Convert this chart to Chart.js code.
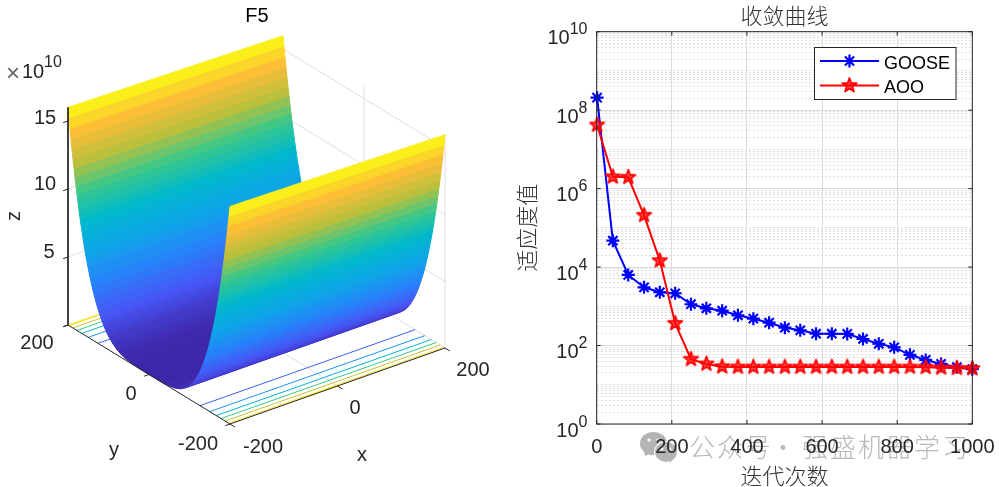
<!DOCTYPE html>
<html>
<head>
<meta charset="utf-8">
<script src="https://cdn.jsdelivr.net/npm/chart.js@4"></script>
<style>
  body { margin: 0; background: #fff; }
  canvas { position: absolute; top: 0; }
  #graficoSuperficie { left: 0; }
  #graficoConvergencia { left: 500px; }
</style>
</head>
<body>
<canvas id="graficoSuperficie" width="500" height="487"></canvas>
<canvas id="graficoConvergencia" width="499" height="487"></canvas>
<script>
// Dados da curva de convergência
const iteracoes = [1, 43, 84, 126, 168, 209, 251, 292, 334, 376, 417, 459, 501, 542, 584, 626, 667, 709, 751, 792, 834, 876, 917, 959, 1000];
const gooseValores = [2.08e8, 4.7e4, 6.3e3, 3.05e3, 2.28e3, 2.15e3, 1130, 890, 773, 590, 484, 382, 285, 244, 200, 200, 198, 147, 111, 90, 58, 43, 34, 28, 25];
const aooValores = [4.2e7, 2.0e6, 1.95e6, 2.1e5, 1.46e4, 368, 45, 34, 29, 28.4, 28.4, 28.4, 28.4, 28.4, 28.4, 28.4, 28.4, 28.4, 28.4, 28.4, 28.4, 28, 27, 26.5, 26];
const ticksXConv = [0, 200, 400, 600, 800, 1000];
const expoentesConv = [0, 2, 4, 6, 8, 10];
const decadasConv = [1, 10, 100, 1e3, 1e4, 1e5, 1e6, 1e7, 1e8, 1e9];

// Perfil da superfície F5: y (metade positiva) e z em unidades de 1e10
const perfilY = [0, 20, 40, 60, 70, 80, 90, 100, 105, 110, 115, 120, 125, 130, 135, 140, 145, 150, 152.5, 155, 157.5, 160, 162.5, 165, 167.5, 170, 172.5, 175, 177.5, 180, 182.5, 185, 187.5, 190, 192.5, 195, 197.5, 200];
const perfilZ = [0, 0.0016, 0.0256, 0.1296, 0.2401, 0.4096, 0.6561, 1, 1.2155, 1.4641, 1.749, 2.0736, 2.4414, 2.8561, 3.3215, 3.8416, 4.4205, 5.0625, 5.4085, 5.772, 6.1535, 6.5536, 6.9729, 7.412, 7.8717, 8.3521, 8.8543, 9.3789, 9.9266, 10.4976, 11.093, 11.714, 12.36, 13.032, 13.732, 14.459, 15.215, 16];
const contornosY = [126, 150, 166, 178, 188, 197];
const contornosZ = [2.5, 5, 7.5, 10, 12.5, 15];
const ticksZ = [5, 10, 15];
const zTopo = 16;

// Mapa de cores
const parula = [[62, 38, 168], [71, 85, 245], [40, 130, 250], [14, 165, 232], [0, 184, 205], [55, 200, 140], [185, 192, 60], [252, 188, 55], [249, 251, 20]];

const corTexto = '#262626';
const fonteLatina = '"Liberation Sans", Arial, sans-serif';
const fonteCJK = '"Noto Sans CJK SC", sans-serif';

Chart.defaults.animation = false;
Chart.defaults.responsive = false;
Chart.defaults.font.family = fonteLatina;
Chart.defaults.color = corTexto;

function corParula(t) {
    const p = Math.min(Math.max(t, 0), 1) * (parula.length - 1);
    const i = Math.min(Math.floor(p), parula.length - 2);
    const f = p - i;
    const c = parula[i].map((v, k) => Math.round(v + (parula[i + 1][k] - v) * f));
    return 'rgb(' + c.join(',') + ')';
}

// Projeção da caixa 3D
function proj(x, y, z) {
    const u = (x + 200) / 400;
    const v = (y + 200) / 400;
    return { x: 230 + u * 215 - v * 162, y: 424 - u * 76 - v * 99 - z * (13.6 - 0.27 * u) };
}

function linha(pontos, cor, largura) {
    return { data: pontos, showLine: true, borderColor: cor, borderWidth: largura, pointRadius: 0, fill: false, clip: false };
}

function criarDatasetsSuperficie() {
    const camadas = [];
    const cinza = '#dedede';

    // grades do fundo
    camadas.push(linha([proj(-200, 200, 0), proj(200, 200, 0), proj(200, -200, 0)], cinza, 1));
    camadas.push(linha([proj(0, -200, 0), proj(0, 200, 0), proj(0, 200, zTopo)], cinza, 1));
    camadas.push(linha([proj(-200, 0, 0), proj(200, 0, 0), proj(200, 0, zTopo)], cinza, 1));
    camadas.push(linha([proj(200, 200, 0), proj(200, 200, zTopo)], cinza, 1));
    camadas.push(linha([proj(200, -200, 0), proj(200, -200, zTopo)], cinza, 1));
    ticksZ.forEach(z => {
        camadas.push(linha([proj(-200, 200, z), proj(200, 200, z), proj(200, -200, z)], cinza, 1));
    });

    // contornos atrás da superfície
    contornosY.forEach((y, i) => {
        camadas.push(linha([proj(-200, y, 0), proj(200, y, 0)], corParula(contornosZ[i] / zTopo), 1));
    });
    camadas.push(linha([proj(-200, 199.5, 0), proj(200, 199.5, 0)], corParula(0.98), 1));

    // faixas da superfície, de trás para a frente
    const ys = perfilY.slice().reverse().concat(perfilY.slice(1).map(v => -v));
    const zs = perfilZ.slice().reverse().concat(perfilZ.slice(1));
    for (let i = 0; i < ys.length - 1; i++) {
        const pontos = [proj(-200, ys[i], zs[i]), proj(200, ys[i], zs[i]), proj(200, ys[i + 1], zs[i + 1]), proj(-200, ys[i + 1], zs[i + 1]), proj(-200, ys[i], zs[i])];
        const cor = corParula((zs[i] + zs[i + 1]) / 2 / zTopo);
        camadas.push({ data: pontos, showLine: true, borderColor: cor, backgroundColor: cor, borderWidth: 1, pointRadius: 0, fill: 'shape', clip: false });
    }

    // contornos à frente
    contornosY.forEach((y, i) => {
        camadas.push(linha([proj(-200, -y, 0), proj(200, -y, 0)], corParula(contornosZ[i] / zTopo), 1));
    });
    camadas.push(linha([proj(-64, -199, 0), proj(1, -199, 0)], corParula(1), 1.2));

    // eixos
    const preto = '#262626';
    camadas.push(linha([proj(-200, 200, zTopo), proj(-200, 200, 0), proj(-200, -200, 0), proj(200, -200, 0)], preto, 1));
    ticksZ.concat([0]).forEach(z => camadas.push(linha([proj(-200, 200, z), proj(-209, 200, z)], preto, 1)));
    [200, 0, -200].forEach(y => camadas.push(linha([proj(-200, y, 0), proj(-209, y, 0)], preto, 1)));
    [-200, 0, 200].forEach(x => camadas.push(linha([proj(x, -200, 0), proj(x, -212, 0)], preto, 1)));

    // o primeiro dataset fica por cima
    return camadas.reverse();
}

const textosSuperficie = {
    id: 'textosSuperficie',
    afterDraw(chart) {
        const ctx = chart.ctx;
        const escreve = (t, x, y, px, cor, rot) => {
            ctx.save();
            ctx.translate(x, y);
            if (rot) ctx.rotate(rot);
            ctx.font = px + 'px ' + fonteLatina;
            ctx.fillStyle = cor || corTexto;
            ctx.textAlign = 'center';
            ctx.textBaseline = 'middle';
            ctx.fillText(t, 0, 0);
            ctx.restore();
        };
        escreve('F5', 257, 16, 20, '#000');
        escreve('×', 13, 74, 24, '#666');
        escreve('10', 33, 72, 20);
        escreve('10', 53, 63, 16);
        escreve('15', 45, 118, 20);
        escreve('10', 45, 184, 20);
        escreve('5', 49, 252, 20);
        escreve('z', 14, 216, 20, corTexto, -Math.PI / 2);
        escreve('200', 37, 343, 20);
        escreve('0', 131, 394, 20);
        escreve('-200', 198, 444, 20);
        escreve('y', 114, 450, 20);
        escreve('-200', 263, 447, 20);
        escreve('0', 355, 408, 20);
        escreve('200', 473, 370, 20);
        escreve('x', 362, 455, 20);
    }
};

new Chart(document.getElementById('graficoSuperficie'), {
    type: 'scatter',
    data: { datasets: criarDatasetsSuperficie() },
    options: {
        layout: { padding: 0 },
        plugins: { legend: { display: false }, tooltip: { enabled: false } },
        scales: {
            x: { type: 'linear', min: 0, max: 500, display: false },
            y: { type: 'linear', min: 0, max: 487, reverse: true, display: false }
        }
    },
    plugins: [textosSuperficie]
});

// Marcador pentagrama
function criarPentagrama(cor, raio, largura) {
    const tam = Math.ceil(raio * 2 + largura * 2 + 2);
    const c = document.createElement('canvas');
    c.width = tam;
    c.height = tam;
    const g = c.getContext('2d');
    g.translate(tam / 2, tam / 2);
    g.beginPath();
    for (let i = 0; i < 10; i++) {
        const r = i % 2 === 0 ? raio : raio * 0.4;
        const a = -Math.PI / 2 + i * Math.PI / 5;
        g.lineTo(r * Math.cos(a), r * Math.sin(a));
    }
    g.closePath();
    g.fillStyle = 'rgba(255,0,0,0.7)';
    g.fill();
    g.strokeStyle = cor;
    g.lineWidth = largura;
    g.lineJoin = 'round';
    g.stroke();
    return c;
}
const marcadorAOO = criarPentagrama('#ff0000', 7.5, 1.8);

const marcaDagua = {
    id: 'marcaDagua',
    beforeDraw(chart) {
        const ctx = chart.ctx;
        ctx.save();
        ctx.fillStyle = '#b4b4b4';
        ctx.beginPath(); ctx.ellipse(153.5, 443.5, 13.5, 11.5, 0, 0, Math.PI * 2); ctx.fill();
        ctx.beginPath(); ctx.moveTo(144, 450); ctx.lineTo(145, 456); ctx.lineTo(152, 453); ctx.fill();
        ctx.fillStyle = '#fff';
        ctx.beginPath(); ctx.ellipse(166, 452, 12, 11, 0, 0, Math.PI * 2); ctx.fill();
        ctx.fillStyle = '#b4b4b4';
        ctx.beginPath(); ctx.ellipse(166, 452, 11, 10, 0, 0, Math.PI * 2); ctx.fill();
        ctx.beginPath(); ctx.moveTo(168, 460); ctx.lineTo(171, 463); ctx.lineTo(172, 458); ctx.fill();
        ctx.fillStyle = '#fff';
        [[149, 440], [158, 440], [162, 449], [170, 449]].forEach(p => {
            ctx.beginPath(); ctx.arc(p[0], p[1], 1.6, 0, Math.PI * 2); ctx.fill();
        });
        ctx.fillStyle = '#b9b9b9';
        ctx.font = '300 26px ' + fonteCJK;
        ctx.textAlign = 'left';
        ctx.textBaseline = 'middle';
        ctx.letterSpacing = '2px';
        ctx.fillText('公众号', 189, 447);
        ctx.fillText('·', 270, 447);
        ctx.fillText('强盛机器学习', 302, 447);
        ctx.restore();
    }
};

const detalhesConvergencia = {
    id: 'detalhesConvergencia',
    afterDraw(chart) {
        const ctx = chart.ctx;
        const { left, right, top, bottom } = chart.chartArea;
        const sx = chart.scales.x;
        const sy = chart.scales.y;

        // moldura e marcas internas
        ctx.save();
        ctx.strokeStyle = corTexto;
        ctx.lineWidth = 1;
        ctx.strokeRect(left, top, right - left, bottom - top);
        ctx.beginPath();
        ticksXConv.forEach(t => {
            const x = sx.getPixelForValue(t);
            ctx.moveTo(x, bottom); ctx.lineTo(x, bottom - 4);
            ctx.moveTo(x, top); ctx.lineTo(x, top + 4);
        });
        expoentesConv.forEach(e => {
            const y = sy.getPixelForValue(Math.pow(10, e));
            ctx.moveTo(left, y); ctx.lineTo(left + 4, y);
            ctx.moveTo(right, y); ctx.lineTo(right - 4, y);
        });
        ctx.stroke();

        // rótulos 10^n
        ctx.fillStyle = corTexto;
        ctx.textBaseline = 'alphabetic';
        expoentesConv.forEach(e => {
            const y = sy.getPixelForValue(Math.pow(10, e));
            const txt = String(e);
            ctx.font = '16px ' + fonteLatina;
            ctx.textAlign = 'right';
            ctx.fillText(txt, 87.5, y + 2.5);
            const w = ctx.measureText(txt).width;
            ctx.font = '20px ' + fonteLatina;
            ctx.fillText('10', 87.5 - w, y + 12.5);
        });

        // legenda
        ctx.fillStyle = '#fff';
        ctx.fillRect(314.5, 47.5, 141.5, 52);
        ctx.strokeStyle = '#262626';
        ctx.strokeRect(314.5, 47.5, 141.5, 52);
        ctx.lineWidth = 2;
        ctx.strokeStyle = '#0000ff';
        ctx.beginPath(); ctx.moveTo(320, 61); ctx.lineTo(379, 61); ctx.stroke();
        ctx.lineWidth = 2.2;
        Chart.helpers.drawPoint(ctx, { pointStyle: 'star', radius: 6.5, borderWidth: 2.2, rotation: 0 }, 349.5, 61);
        ctx.lineWidth = 2;
        ctx.strokeStyle = '#ff0000';
        ctx.beginPath(); ctx.moveTo(320, 85.5); ctx.lineTo(379, 85.5); ctx.stroke();
        ctx.drawImage(marcadorAOO, 349.5 - marcadorAOO.width / 2, 85.5 - marcadorAOO.height / 2);
        ctx.fillStyle = '#000';
        ctx.font = '18px ' + fonteLatina;
        ctx.textAlign = 'left';
        ctx.textBaseline = 'middle';
        ctx.fillText('GOOSE', 384, 64);
        ctx.fillText('AOO', 384, 88);
        ctx.restore();
    }
};

new Chart(document.getElementById('graficoConvergencia'), {
    type: 'scatter',
    data: {
        datasets: [
            {
                label: 'GOOSE',
                data: iteracoes.map((x, i) => ({ x: x, y: gooseValores[i] })),
                showLine: true,
                borderColor: '#0000ff',
                borderWidth: 2,
                pointStyle: 'star',
                pointRadius: 6.5,
                pointBorderWidth: 2.2,
                pointBorderColor: '#0000ff',
                clip: false,
                order: 2
            },
            {
                label: 'AOO',
                data: iteracoes.map((x, i) => ({ x: x, y: aooValores[i] })),
                showLine: true,
                borderColor: '#ff0000',
                borderWidth: 2,
                pointStyle: marcadorAOO,
                clip: false,
                order: 1
            }
        ]
    },
    options: {
        layout: { padding: { right: 26.7 } },
        plugins: {
            legend: { display: false },
            tooltip: { enabled: false },
            title: {
                display: true,
                text: '收敛曲线',
                fullSize: false,
                font: { family: fonteCJK, size: 22, weight: 300 },
                color: '#333333',
                padding: { top: 2, bottom: 3.3 }
            }
        },
        scales: {
            x: {
                type: 'linear',
                min: 0,
                max: 1000,
                afterFit: s => { s.height = 63; s.paddingLeft = 0; s.paddingRight = 0; },
                afterBuildTicks: s => { s.ticks = ticksXConv.map(v => ({ value: v })); },
                grid: { color: '#dcdcdc', drawTicks: false },
                border: { display: false },
                ticks: { font: { size: 20 }, color: corTexto, padding: 11, maxRotation: 0, autoSkip: false, callback: v => String(v) },
                title: { display: true, text: '迭代次数', font: { family: fonteCJK, size: 22, weight: 300, lineHeight: 1 }, color: '#333333', padding: { top: 0, bottom: 0 } }
            },
            // linhas principais
            y: {
                type: 'logarithmic',
                min: 1,
                max: 1e10,
                afterFit: s => { s.width = 96.7; s.paddingTop = 0; s.paddingBottom = 0; },
                afterBuildTicks: s => { s.ticks = expoentesConv.map(e => ({ value: Math.pow(10, e), major: true })); },
                grid: { color: '#dcdcdc', drawTicks: false },
                border: { display: false },
                ticks: { display: false, autoSkip: false },
                title: { display: true, text: '适应度值', font: { family: fonteCJK, size: 22, weight: 300, lineHeight: 1 }, color: '#333333', padding: { top: 16, bottom: 0 } }
            },
            // linhas secundárias pontilhadas
            yMenor: {
                type: 'logarithmic',
                position: 'left',
                min: 1,
                max: 1e10,
                afterFit: s => { s.width = 0; s.paddingTop = 0; s.paddingBottom = 0; },
                afterBuildTicks: s => {
                    const lista = [];
                    decadasConv.forEach(d => {
                        [1, 2, 3, 4, 5, 6, 7, 8, 9].forEach(m => {
                            if (m > 1 || decadasConv.indexOf(d) % 2 === 1) lista.push({ value: d * m });
                        });
                    });
                    s.ticks = lista;
                },
                grid: { color: '#dedede', drawTicks: false, lineWidth: 1 },
                border: { display: false, dash: [2, 2] },
                ticks: { display: false, autoSkip: false }
            }
        }
    },
    plugins: [marcaDagua, detalhesConvergencia]
});
</script>
</body>
</html>
